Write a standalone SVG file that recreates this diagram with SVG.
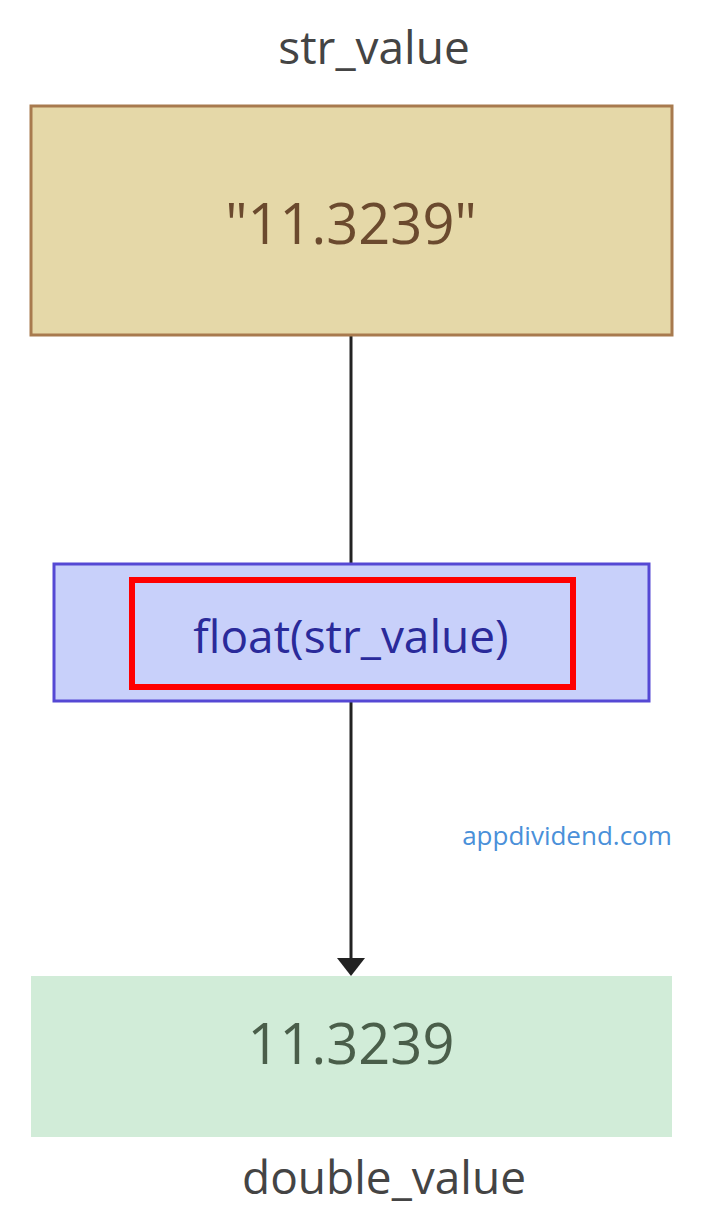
<svg xmlns="http://www.w3.org/2000/svg" width="728" height="1214" viewBox="0 0 728 1214">
<style>
text{font-family:"Open Sans","Noto Sans",sans-serif;text-anchor:middle}
.lbl{font-size:46px;fill:#444}
</style>
<defs><marker id="ah" markerWidth="10" markerHeight="10" refX="5" refY="5" orient="auto" markerUnits="userSpaceOnUse" viewBox="0 0 10 10"><path d="M0,0L10,5L0,10z" fill="#222"/></marker></defs>
<rect width="728" height="1214" fill="#fff"/>
<g id="connectors" stroke="#222" stroke-width="3" fill="none">
<line x1="351" y1="336" x2="351" y2="564"/>
<path d="M351,702V960" />
<path d="M337,958L351,976L365,958z" fill="#222" stroke="none"/>
</g>
<text x="374" y="64" class="lbl">str_value</text>
<g id="str">
<rect x="31" y="106" width="641" height="229" fill="#e5d8a8" stroke="#a87a4e" stroke-width="3"/>
<text x="351" y="244" font-size="56" fill="#6b4a2e">"11.3239"</text>
</g>
<g id="float">
<rect x="54" y="564" width="595" height="137" fill="#c8d0fa" stroke="#5548d4" stroke-width="3"/>
<rect x="132" y="580" width="441" height="107" fill="none" stroke="#f00" stroke-width="6"/>
<text x="351" y="653" font-size="46" fill="#2a2a9a">float(str_value)</text>
</g>
<text x="567" y="845" font-size="26" fill="#4a90d9">appdividend.com</text>
<g id="double">
<rect x="31" y="976" width="641" height="161" fill="#d1ecd8"/>
<text x="351" y="1064" font-size="56" fill="#4a5e4a">11.3239</text>
</g>
<text x="384" y="1194" class="lbl">double_value</text>
</svg>
